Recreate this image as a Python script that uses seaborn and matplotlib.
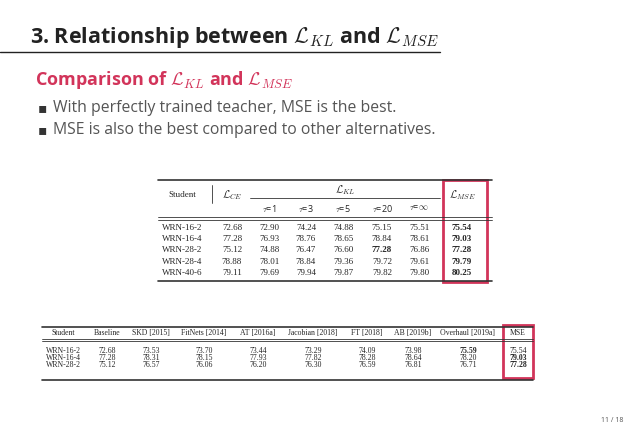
import matplotlib
matplotlib.use("Agg")
import matplotlib.pyplot as plt
import seaborn as sns
from matplotlib.patches import Rectangle

sns.set_theme(style="white")
plt.rcParams["font.family"] = ["Open Sans", "DejaVu Sans"]
plt.rcParams["mathtext.fontset"] = "cm"

# 표 1 데이터
students1 = ["WRN-16-2", "WRN-16-4", "WRN-28-2", "WRN-28-4", "WRN-40-6"]
ce = [72.68, 77.28, 75.12, 78.88, 79.11]
taus = ["$\\tau$=1", "$\\tau$=3", "$\\tau$=5", "$\\tau$=20", "$\\tau$=$\\infty$"]
kl = [
    [72.90, 74.24, 74.88, 75.15, 75.51],
    [76.93, 78.76, 78.65, 78.84, 78.61],
    [74.88, 76.47, 76.60, 77.28, 76.86],
    [78.01, 78.84, 79.36, 79.72, 79.61],
    [79.69, 79.94, 79.87, 79.82, 79.80],
]
mse1 = [75.54, 79.03, 77.28, 79.79, 80.25]

# 표 2 데이터
methods = ["Baseline", "SKD [2015]", "FitNets [2014]", "AT [2016a]", "Jacobian [2018]",
           "FT [2018]", "AB [2019b]", "Overhaul [2019a]", "MSE"]
students2 = ["WRN-16-2", "WRN-16-4", "WRN-28-2"]
vals2 = [
    [72.68, 73.53, 73.70, 73.44, 73.29, 74.09, 73.98, 75.59, 75.54],
    [77.28, 78.31, 78.15, 77.93, 77.82, 78.28, 78.64, 78.20, 79.03],
    [75.12, 76.57, 76.06, 76.20, 76.30, 76.59, 76.81, 76.71, 77.28],
]
bold2 = [[7], [8], [8]]  # 굵게 표시된 칸

red = "#d2345a"
fig = plt.figure(figsize=(6.38, 4.42), dpi=100)
ax = fig.add_axes([0, 0, 1, 1])
ax.set_xlim(0, 638)
ax.set_ylim(442, 0)
ax.axis("off")

ax.text(30, 38, "3. Relationship between $\\mathcal{L}_{KL}$ and $\\mathcal{L}_{MSE}$",
        fontsize=15.5, fontweight="bold", color="#222222", va="center")
ax.plot([0, 440], [52, 52], color="#222222", lw=1)
ax.text(35, 80, "Comparison of $\\mathcal{L}_{KL}$ and $\\mathcal{L}_{MSE}$",
        fontsize=13, fontweight="bold", color=red, va="center")
for y, s in [(108, "With perfectly trained teacher, MSE is the best."),
             (130, "MSE is also the best compared to other alternatives.")]:
    ax.text(38, y, "\u25aa", fontsize=10, color="#333333", va="center", family=["DejaVu Sans"])
    ax.text(53, y, s, fontsize=11.3, color="#555555", va="center")

serif = ["Liberation Serif", "DejaVu Serif"]
fs = 6.5

# 표 1
ax.plot([158, 492], [180, 180], color="#333333", lw=1.2)
ax.plot([158, 492], [217, 217], color="#333333", lw=0.6)
ax.plot([158, 492], [219.5, 219.5], color="#333333", lw=0.6)
ax.plot([158, 492], [281, 281], color="#333333", lw=1.2)
ax.plot([212, 212], [185, 203], color="#333333", lw=0.6)
ax.plot([250, 440], [198, 198], color="#333333", lw=0.6)
ax.text(182, 195, "Student", fontsize=fs, ha="center", va="center", family=serif)
ax.text(232, 195, "$\\mathcal{L}_{CE}$", fontsize=fs + 1, ha="center", va="center")
ax.text(345, 190, "$\\mathcal{L}_{KL}$", fontsize=fs + 1, ha="center", va="center")
ax.text(462, 195, "$\\mathcal{L}_{MSE}$", fontsize=fs + 1, ha="center", va="center")
cols = [269, 306, 343, 382, 419]
for x, t in zip(cols, taus):
    ax.text(x, 208, t, fontsize=fs, ha="center", va="center")
rows = [228, 239, 250, 262, 273]
for i, y in enumerate(rows):
    ax.text(182, y, students1[i], fontsize=fs, ha="center", va="center", family=serif)
    ax.text(232, y, f"{ce[i]:.2f}", fontsize=fs, ha="center", va="center", family=serif)
    for x, v in zip(cols, kl[i]):
        w = "bold" if v >= mse1[i] else "normal"
        ax.text(x, y, f"{v:.2f}", fontsize=fs, ha="center", va="center", family=serif, fontweight=w)
    ax.text(462, y, f"{mse1[i]:.2f}", fontsize=fs, ha="center", va="center", family=serif, fontweight="bold")
ax.add_patch(Rectangle((443, 180), 44, 102, fill=False, ec=red, lw=2))

# 표 2
fs2 = 5.6
ax.plot([42, 533], [327, 327], color="#333333", lw=1.2)
ax.plot([42, 533], [338.5, 338.5], color="#333333", lw=0.6)
ax.plot([42, 533], [341, 341], color="#333333", lw=0.6)
ax.plot([42, 533], [380, 380], color="#333333", lw=1.2)
xs = [107, 151, 204, 258, 313, 367, 413, 468, 518]
ax.text(63, 333, "Student", fontsize=fs2, ha="center", va="center", family=serif)
for x, m in zip(xs, methods):
    ax.text(x, 333, m, fontsize=fs2, ha="center", va="center", family=serif)
for i, y in enumerate([351, 358, 365]):
    ax.text(63, y, students2[i], fontsize=fs2, ha="center", va="center", family=serif)
    for j, (x, v) in enumerate(zip(xs, vals2[i])):
        w = "bold" if j in bold2[i] else "normal"
        ax.text(x, y, f"{v:.2f}", fontsize=fs2, ha="center", va="center", family=serif, fontweight=w)
ax.add_patch(Rectangle((503, 325), 30, 53, fill=False, ec=red, lw=2))

ax.text(612, 421, "11 / 18", fontsize=5, ha="center", va="center", color="#555555")

fig.savefig("out.png", dpi=100)
